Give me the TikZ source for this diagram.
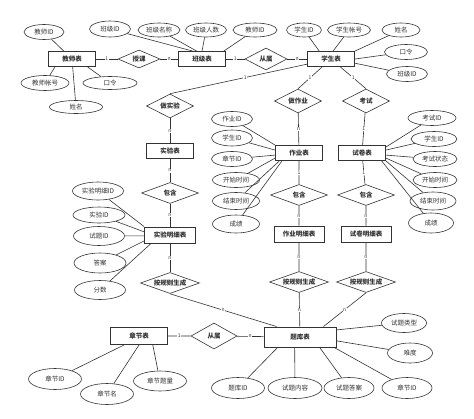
\documentclass[tikz,border=0pt]{standalone}
\usepackage{fontspec}
\setmainfont{Noto Sans CJK SC}
\usetikzlibrary{shapes.geometric}
\definecolor{ink}{HTML}{333333}

\begin{document}
\begin{tikzpicture}[x=1pt,y=-1pt,line width=0.6pt,color=ink,
	entity/.style={draw,rectangle,line width=0.9pt,inner sep=0pt,fill=white,font=\fontsize{6.5}{7}\selectfont\bfseries,minimum width=47pt,minimum height=15pt},
	attr/.style={draw,ellipse,inner sep=0pt,font=\fontsize{6.5}{7}\selectfont,minimum width=45pt,minimum height=15pt},
	rel/.style={draw,diamond,aspect=2.5,inner sep=0pt,font=\fontsize{6.5}{7}\selectfont\bfseries,minimum width=47pt,minimum height=24pt},
	card/.style={fill=white,inner sep=0.6pt,font=\fontsize{5}{5}\selectfont}]
	\useasboundingbox (0,0) rectangle (474,418);

	% entities
	\node[entity] (js) at (72,59) {教师表};
	\node[entity] (bj) at (202,59) {班级表};
	\node[entity] (xs) at (331,59) {学生表};
	\node[entity] (sy) at (170,151) {实验表};
	\node[entity] (zy) at (299,153) {作业表};
	\node[entity] (sj) at (362,153) {试卷表};
	\node[entity,minimum width=51pt,minimum height=16pt] (sm) at (170,235) {实验明细表};
	\node[entity,minimum width=50pt,minimum height=16pt] (zm) at (299,234) {作业明细表};
	\node[entity,minimum width=50pt,minimum height=16pt] (jm) at (366,234) {试卷明细表};
	\node[entity,minimum width=72pt,minimum height=20pt] (tk) at (300,337) {题库表};
	\node[entity,minimum width=57pt,minimum height=17pt] (zj) at (139,336) {章节表};

	% relations
	\node[rel,minimum width=42pt,minimum height=18pt] (sk) at (139,59) {授课};
	\node[rel,minimum width=42pt,minimum height=22pt] (cs) at (266,59) {从属};
	\node[rel] (zsy) at (170,106) {做实验};
	\node[rel] (zzy) at (298,101) {做作业};
	\node[rel] (ks) at (366,101) {考试};
	\node[rel,minimum width=57pt,minimum height=21pt] (bh1) at (170,193) {包含};
	\node[rel,minimum width=57pt,minimum height=21pt] (bh2) at (299,195) {包含};
	\node[rel,minimum width=57pt,minimum height=21pt] (bh3) at (366,195) {包含};
	\node[rel,minimum width=59pt,minimum height=21pt] (gz1) at (170,283) {按规则生成};
	\node[rel,minimum width=59pt,minimum height=21pt] (gz2) at (299,282) {按规则生成};
	\node[rel,minimum width=59pt,minimum height=21pt] (gz3) at (366,282) {按规则生成};
	\node[rel,minimum width=46pt,minimum height=26pt] (cs2) at (214,336) {从属};

	% attributes
	\node[attr,minimum width=40pt] (js1) at (44,32) {教师ID};
	\node[attr,minimum width=48pt] (js2) at (45,83) {教师帐号};
	\node[attr,minimum width=54pt,minimum height=13pt] (js3) at (110,83) {口令};
	\node[attr,minimum width=53pt,minimum height=13pt] (js4) at (76,107) {姓名};

	\node[attr,minimum width=41pt,minimum height=16pt] (bj1) at (110,29) {班级ID};
	\node[attr,minimum width=42pt,minimum height=14pt] (bj2) at (159,30) {班级名称};
	\node[attr,minimum width=41pt,minimum height=14pt] (bj3) at (206,30) {班级人数};
	\node[attr,minimum width=44pt,minimum height=14pt] (bj4) at (255,30) {教师ID};

	\node[attr,minimum width=35pt,minimum height=14pt] (xs1) at (304,30) {学生ID};
	\node[attr,minimum width=43pt,minimum height=14pt] (xs2) at (349,30) {学生帐号};
	\node[attr,minimum width=38pt,minimum height=14pt] (xs3) at (401,30) {姓名};
	\node[attr,minimum width=43pt] (xs4) at (406,52) {口令};
	\node[attr,minimum width=41pt] (xs5) at (407,74) {班级ID};

	\node[attr,minimum width=41pt] (zy1) at (232,119) {作业ID};
	\node[attr,minimum width=41pt,minimum height=16pt] (zy2) at (232,138) {学生ID};
	\node[attr,minimum width=41pt] (zy3) at (232,159) {章节ID};
	\node[attr,minimum width=47pt] (zy4) at (236,180) {开始时间};
	\node[attr,minimum width=47pt,minimum height=17pt] (zy5) at (236,201) {结束时间};
	\node[attr,minimum width=47pt,minimum height=18pt] (zy6) at (236,224) {成绩};

	\node[attr,minimum width=48pt] (sj1) at (432,118) {考试ID};
	\node[attr,minimum width=46pt] (sj2) at (434,139) {学生ID};
	\node[attr,minimum width=44pt] (sj3) at (435,159) {考试状态};
	\node[attr,minimum width=44pt] (sj4) at (435,180) {开始时间};
	\node[attr,minimum width=46pt,minimum height=18pt] (sj5) at (433,201) {结束时间};
	\node[attr,minimum width=45pt,minimum height=20pt] (sj6) at (431,223) {成绩};

	\node[attr,minimum width=51pt,minimum height=18pt] (sm1) at (98,191) {实验明细ID};
	\node[attr,minimum width=52pt,minimum height=16pt] (sm2) at (99,215) {实验ID};
	\node[attr,minimum width=51pt,minimum height=19pt] (sm3) at (99,236) {试题ID};
	\node[attr,minimum width=52pt,minimum height=20pt] (sm4) at (100,263) {答案};
	\node[attr,minimum width=51pt,minimum height=19pt] (sm5) at (100,290) {分数};

	\node[attr,minimum width=53pt,minimum height=21pt] (zj1) at (55,379) {章节ID};
	\node[attr,minimum width=53pt,minimum height=21pt] (zj2) at (107,394) {章节名};
	\node[attr,minimum width=53pt,minimum height=20pt] (zj3) at (160,381) {章节题量};

	\node[attr,minimum width=45pt,minimum height=19pt] (tk1) at (404,323) {试题类型};
	\node[attr,minimum width=45pt,minimum height=20pt] (tk2) at (410,353) {难度};
	\node[attr,minimum width=53pt,minimum height=21pt] (tk3) at (238,388) {题库ID};
	\node[attr,minimum width=54pt,minimum height=21pt] (tk4) at (295,388) {试题内容};
	\node[attr,minimum width=50pt,minimum height=21pt] (tk5) at (349,388) {试题答案};
	\node[attr,minimum width=50pt,minimum height=21pt] (tk6) at (407,388) {章节ID};

	% attribute links
	\draw (js1) -- (js); \draw (js2) -- (js.205); \draw (js3) -- (js.333); \draw (js4) -- (js);
	\draw (bj1) -- (bj.140); \draw (bj2) -- (bj.124); \draw (bj3) -- (bj.north); \draw (bj4) -- (bj.20);
	\draw (xs1) -- (xs.146); \draw (xs2) -- (xs.75); \draw (xs3) -- (xs.north east);
	\draw (xs4) -- (xs.east); \draw (xs5) -- (xs.350);
	\draw (zy1) -- (zy.north west); \draw (zy2) -- (zy.173); \draw (zy3) -- (zy.185);
	\draw (zy4) -- (zy.192); \draw (zy5) -- (zy.202); \draw (zy6) -- (zy.205);
	\draw (sj1) -- (sj.14); \draw (sj2) -- (sj.7); \draw (sj3) -- (sj.355);
	\draw (sj4) -- (sj.348); \draw (sj5) -- (sj.south east); \draw (sj6) -- (sj.338);
	\draw (sm1) -- (sm.north west); \draw (sm2) -- (sm.173); \draw (sm3) -- (sm.182);
	\draw (sm4) -- (sm.193); \draw (sm5) -- (sm.204);
	\draw (zj1) -- (zj.211); \draw (zj2) -- (zj.south); \draw (zj3) -- (zj.327);
	\draw (tk1) -- (tk.11); \draw (tk2) -- (tk.354); \draw (tk3) -- (tk.205);
	\draw (tk4) -- (tk.243); \draw (tk5) -- (tk.332); \draw (tk6) -- (tk.343);

	% relation links
	\draw (js) -- node[card] {1} (sk) -- node[card] {n} (bj);
	\draw (bj) -- node[card] {1} (cs) -- node[card] {n} (xs);
	\draw (zsy.north) -- node[card,pos=0.55] {1} (xs);
	\draw (zzy.north) -- node[card] {1} (xs);
	\draw (ks.north) -- node[card] {1} (xs);
	\draw (zsy) -- node[card] {n} (sy) -- node[card] {n} (bh1) -- node[card] {n} (sm) -- node[card] {n} (gz1);
	\draw (zzy) -- node[card] {n} (zy) -- node[card] {1} (bh2) -- node[card] {n} (zm) -- node[card] {n} (gz2);
	\draw (ks) -- node[card] {1} (sj) -- node[card] {1} (bh3) -- node[card] {n} (jm) -- node[card] {n} (gz3);
	\draw (gz1.south) -- node[card] {n} (tk.156);
	\draw (gz2) -- node[card] {n} (tk);
	\draw (gz3.south) -- node[card] {n} (tk.24);
	\draw (zj) -- node[card] {1} (cs2) -- node[card] {n} (tk);
\end{tikzpicture}
\end{document}
